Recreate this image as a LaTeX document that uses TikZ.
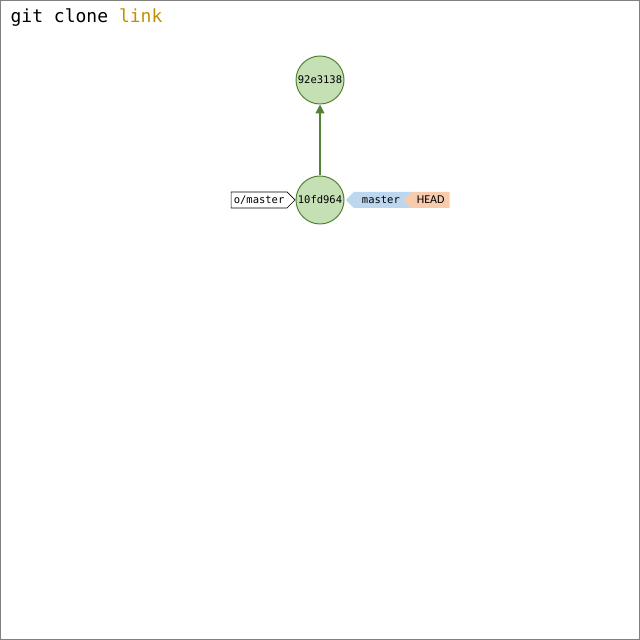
\documentclass[tikz,border=0pt]{standalone}
\usepackage{fontspec}
\setmonofont{DejaVu Sans Mono}
\newfontfamily\tagfont{Carlito}
\usepackage{tikz}
\usetikzlibrary{arrows.meta,positioning,shapes.symbols}

\definecolor{commitfill}{HTML}{C5E0B4}
\definecolor{commitline}{HTML}{548235}
\definecolor{branchfill}{HTML}{BDD7EE}
\definecolor{headfill}{HTML}{F8CBAD}
\definecolor{linkgold}{HTML}{BF9000}
\definecolor{framegray}{HTML}{808080}

\begin{document}
\begin{tikzpicture}[x=1pt, y=1pt, >={Triangle[length=9pt,width=9pt]}, node distance=120pt, semithick,
	commit/.style={circle, draw=commitline, fill=commitfill, line width=1pt, minimum size=48pt, inner sep=0pt, font=\ttfamily\fontsize{10.5}{12}\selectfont},
	tag/.style={signal, signal pointer angle=90, minimum height=16pt, inner sep=1pt, font=\ttfamily\fontsize{10.5}{12}\selectfont}]
	  		\draw[framegray, line width=0.8pt] (0.4,0.4) rectangle (639.6,639.6);
	  		\useasboundingbox (0,0) rectangle (640,640);
	  		\node[anchor=base west, font=\ttfamily\fontsize{18}{20}\selectfont] (TITLE) at (7,617) {git clone \textcolor{linkgold}{link}};

	  		\node[commit]        (C2) at (320,440)		{10fd964};
	  		\node[commit]        (C1) [above of=C2]		{92e3138};

	  		\node[tag, signal to=east, draw=black, fill=white, line width=0.6pt, minimum width=64pt] (OMASTER) [left=0pt of C2]	{o/master};
	  		\node[tag, signal to=west, fill=branchfill, minimum width=67pt]  (MASTER) [right=1pt of C2]	{master\hspace*{5pt}};
	  		\node[tag, signal to=west, fill=headfill, minimum width=46pt, font=\tagfont\fontsize{12}{13}\selectfont]  (HEAD) [right=-10pt of MASTER]	{HEAD};

	  		\path	(C2)	edge[->, commitline, line width=1.2pt]	(C1);
		\end{tikzpicture}
\end{document}
